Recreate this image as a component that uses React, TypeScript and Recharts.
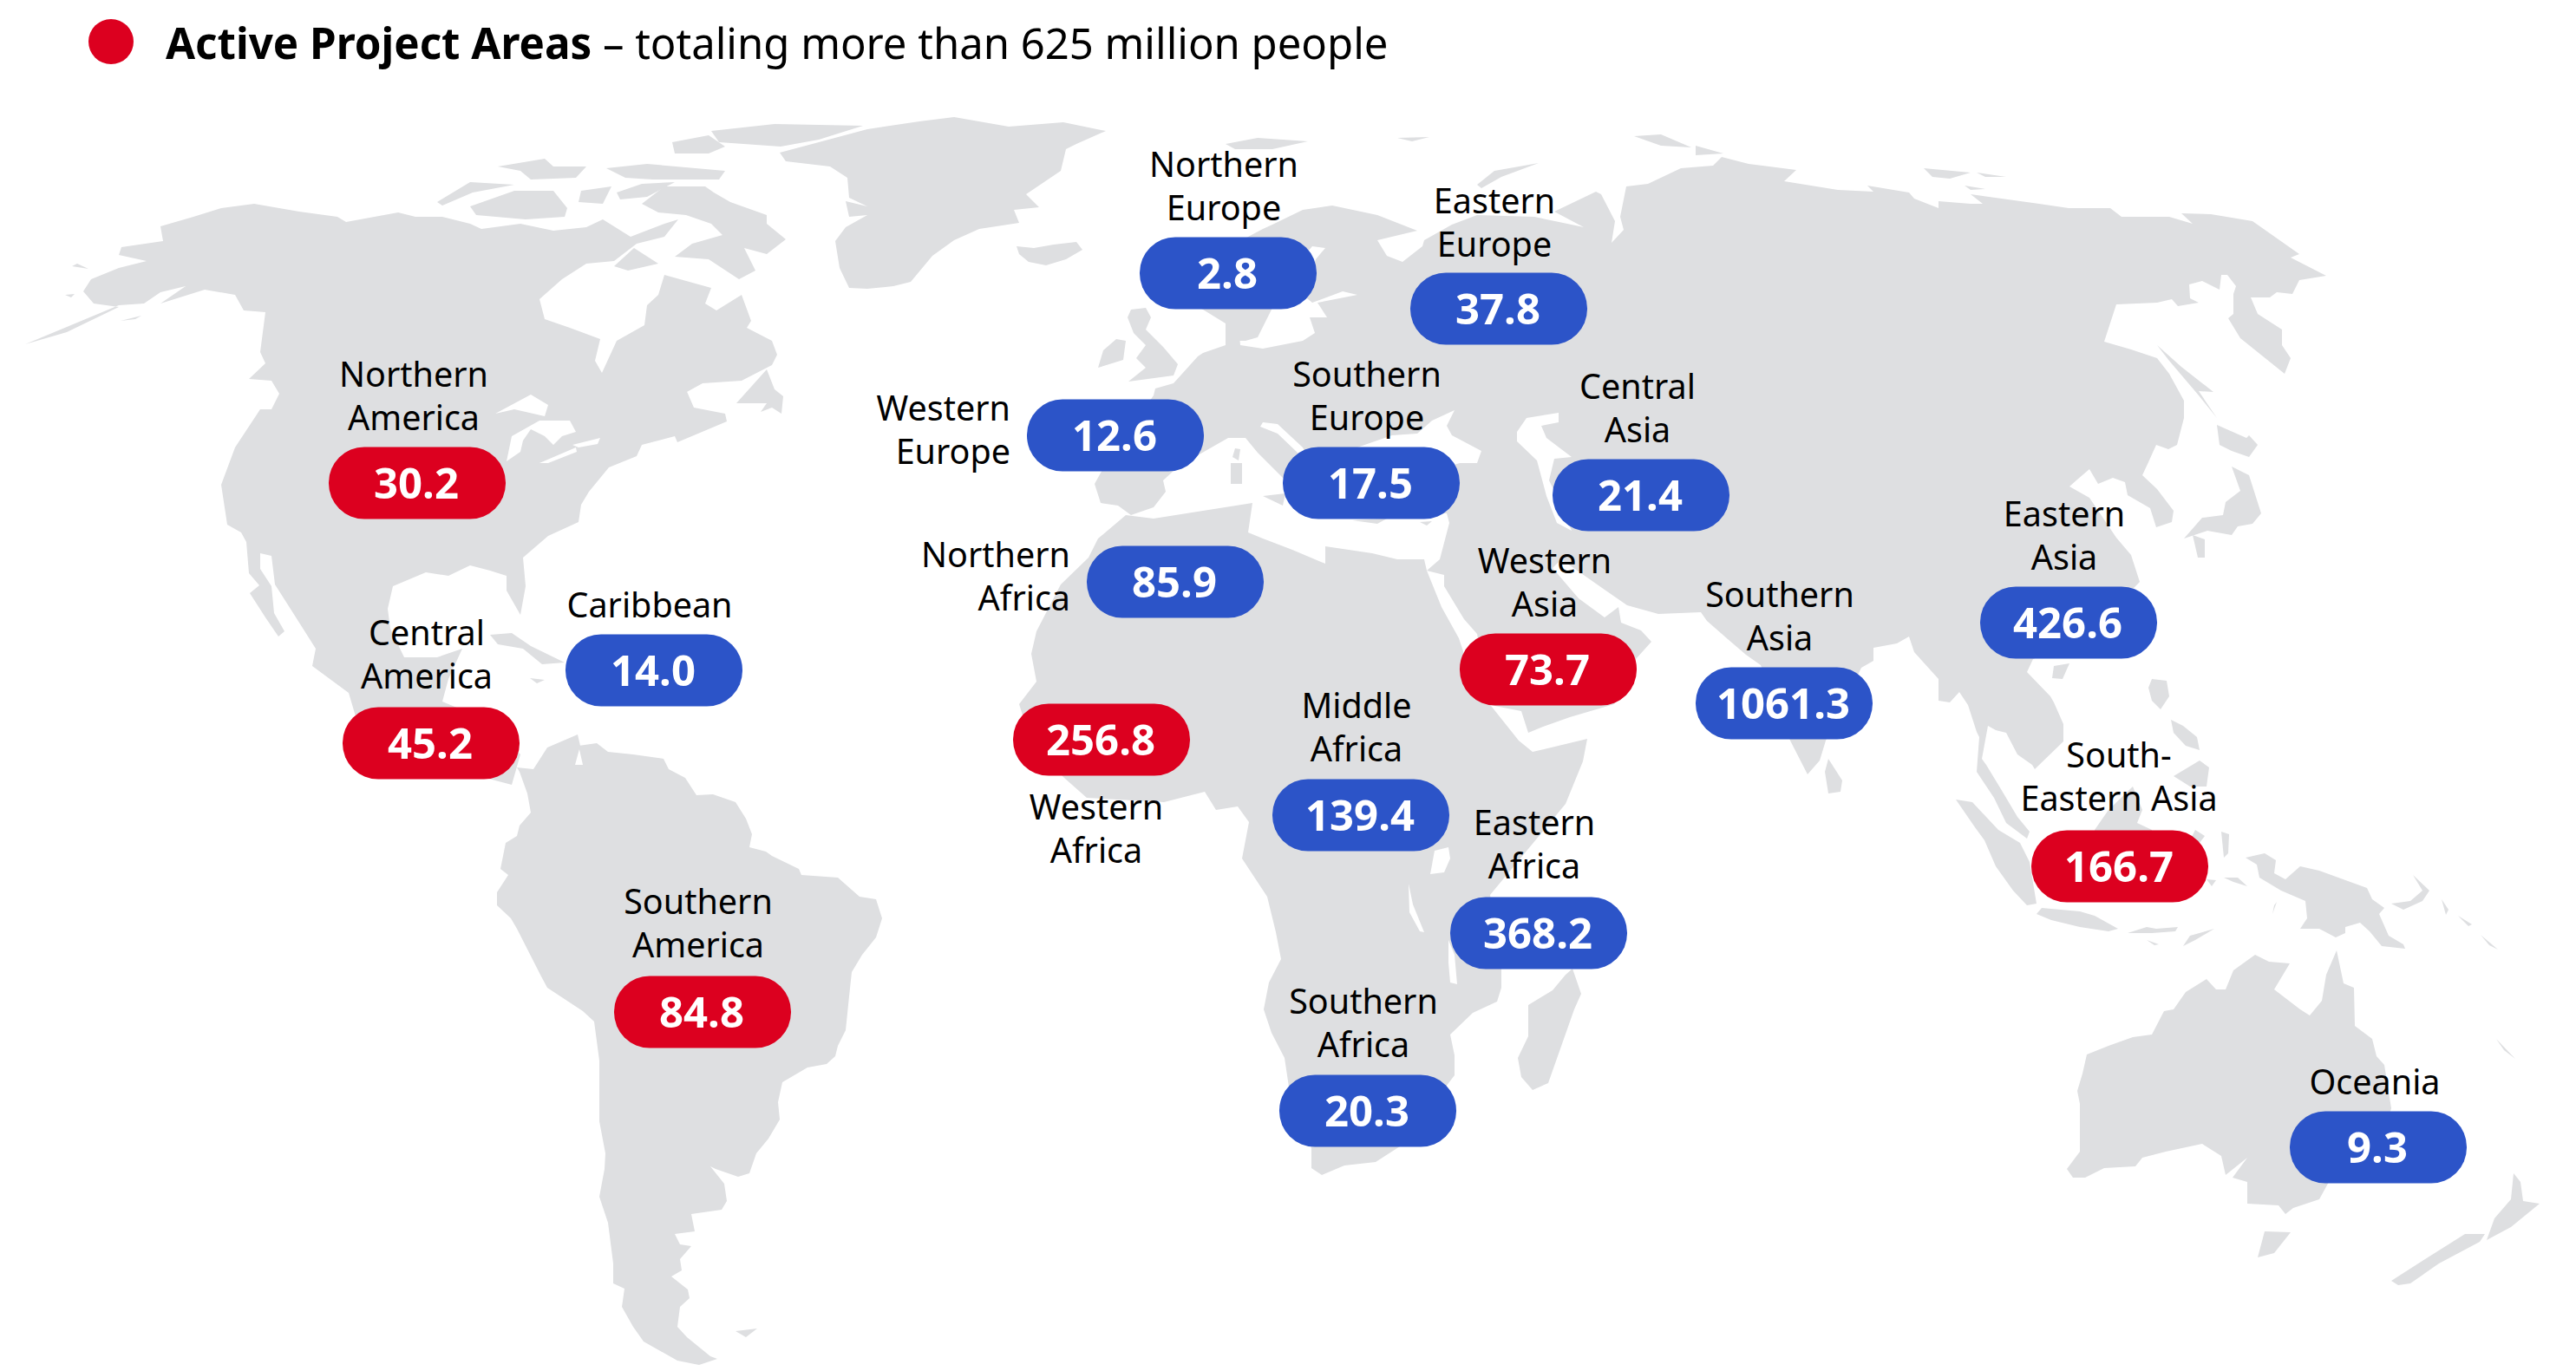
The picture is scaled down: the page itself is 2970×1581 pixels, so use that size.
import React from 'react';
import { ScatterChart, Scatter, XAxis, YAxis } from 'recharts';

type Pt = [number, number];

const WIDTH = 2970;
const HEIGHT = 1581;

const LAND_COLOR = '#dedfe1';
const ACTIVE_COLOR = '#dc001f';
const OTHER_COLOR = '#2c54c8';
const FONT = '"Noto Sans", sans-serif';

// regions, top level values in million people
const REGION_LINES = [
  ['Northern', 'America'], ['Caribbean'], ['Central', 'America'], ['Southern', 'America'],
  ['Western', 'Africa'], ['Northern', 'Europe'], ['Eastern', 'Europe'], ['Western', 'Europe'],
  ['Southern', 'Europe'], ['Central', 'Asia'], ['Northern', 'Africa'], ['Western', 'Asia'],
  ['Middle', 'Africa'], ['Eastern', 'Africa'], ['Southern', 'Africa'], ['Southern', 'Asia'],
  ['Eastern', 'Asia'], ['South-', 'Eastern Asia'], ['Oceania'],
];
const REGION_VALUES = ['30.2', '14.0', '45.2', '84.8', '256.8', '2.8', '37.8', '12.6', '17.5', '21.4', '85.9', '73.7', '139.4', '368.2', '20.3', '1061.3', '426.6', '166.7', '9.3'];
const REGION_ACTIVE = [true, false, true, true, true, false, false, false, false, false, false, true, false, false, false, false, false, true, false];

// map position of each badge and label, in picture pixels
const BADGE_X = [481, 754, 497, 810, 1270, 1416, 1728, 1286, 1581, 1892, 1355, 1785, 1569, 1774, 1577, 2057, 2385, 2444, 2742];
const BADGE_Y = [557, 773, 857, 1167, 853, 315, 356, 502, 557, 571, 671, 772, 940, 1076, 1281, 811, 718, 999, 1323];
const LABEL_X = [477, 749, 492, 805, 1264, 1411, 1723, 1165, 1576, 1888, 1234, 1781, 1564, 1769, 1572, 2052, 2380, 2443, 2738];
const LABEL_Y = [446, 712, 744, 1054, 945, 204, 246, 485, 446, 460, 654, 661, 828, 963, 1169, 700, 607, 885, 1262];
const LABEL_ANCHOR = ['middle', 'middle', 'middle', 'middle', 'middle', 'middle', 'middle', 'end', 'middle', 'middle', 'end', 'middle', 'middle', 'middle', 'middle', 'middle', 'middle', 'middle', 'middle'];

const NORTH_AMERICA: Pt[] = [[29,397],[77,383],[137,354],[108,350],[96,336],[105,322],[137,309],[169,301],[137,294],[140,285],[188,278],[185,261],[223,250],[255,240],[293,235],[345,244],[389,250],[399,256],[459,245],[479,250],[510,250],[542,258],[555,264],[600,258],[638,266],[676,262],[695,253],[727,273],[766,258],[782,253],[766,273],[734,281],[708,301],[676,304],[648,322],[622,345],[628,368],[657,378],[692,391],[686,416],[694,430],[711,393],[743,375],[746,352],[759,340],[766,317],[820,332],[813,350],[826,358],[855,340],[866,370],[861,378],[890,393],[896,409],[890,421],[855,439],[810,442],[750,475],[790,447],[800,470],[836,477],[838,486],[781,510],[778,503],[740,513],[734,526],[702,539],[679,567],[670,582],[667,602],[632,618],[603,643],[606,676],[600,709],[584,681],[584,664],[565,658],[542,652],[517,664],[491,660],[453,676],[447,702],[450,725],[466,758],[504,758],[533,748],[517,783],[510,809],[560,830],[600,870],[590,905],[420,860],[402,799],[360,768],[364,748],[338,707],[317,674],[313,641],[300,638],[300,656],[313,676],[316,707],[328,728],[321,734],[306,712],[288,684],[299,675],[287,661],[284,625],[278,614],[262,605],[255,559],[271,516],[300,472],[313,472],[322,454],[313,439],[287,437],[306,419],[300,406],[306,360],[281,358],[271,340],[236,334],[185,350],[214,330],[185,337],[166,350],[137,352]];
const BAFFIN: Pt[] = [[740,235],[766,215],[813,215],[823,222],[842,233],[884,248],[884,258],[906,276],[884,293],[858,286],[871,312],[852,322],[817,299],[778,296],[798,281],[833,271],[820,258],[791,248],[759,245]];
const VICTORIA: Pt[] = [[542,238],[593,220],[638,220],[654,240],[651,250],[606,253],[549,248]];
const BANKS: Pt[] = [[504,233],[542,210],[593,213],[545,222],[510,237]];
const ELLESMERE: Pt[] = [[820,151],[893,143],[995,145],[944,161],[900,169],[829,164]];
const AXEL: Pt[] = [[775,164],[817,156],[836,169],[817,177],[778,177]];
const DEVON: Pt[] = [[699,194],[746,189],[836,197],[829,207],[753,207],[721,205]];
const MELVILLE: Pt[] = [[574,192],[628,183],[638,192],[676,192],[664,205],[612,207],[600,197]];
const PRINCE_WALES: Pt[] = [[670,220],[705,215],[695,235],[667,233]];
const SOMERSET: Pt[] = [[711,222],[740,212],[778,210],[746,227],[715,230]];
const SOUTHAMPTON: Pt[] = [[708,307],[731,286],[759,304],[724,312]];
const NEWFOUNDLAND: Pt[] = [[849,465],[884,426],[893,449],[903,457],[901,477],[890,470],[877,475],[884,465],[861,465]];
const KODIAK: Pt[] = [[139,370],[163,364],[156,368]];
const ALEUT_A: Pt[] = [[83,307],[89,304],[102,310]];
const ALEUT_B: Pt[] = [[75,340],[86,339],[82,343]];
const CUBA: Pt[] = [[565,732],[590,730],[612,745],[651,764],[625,766],[603,748],[574,743]];
const JAMAICA: Pt[] = [[611,782],[628,784],[619,788]];
const SOUTH_AMERICA: Pt[] = [[596,885],[615,887],[631,862],[666,847],[669,860],[663,882],[672,882],[667,860],[688,857],[701,867],[730,870],[765,875],[771,887],[790,897],[803,917],[822,916],[848,925],[860,944],[867,962],[864,977],[883,982],[890,987],[921,1002],[924,1009],[966,1012],[991,1034],[1010,1037],[1017,1059],[1010,1081],[994,1101],[982,1121],[979,1149],[975,1188],[966,1206],[963,1218],[953,1227],[931,1231],[902,1248],[897,1271],[899,1291],[886,1313],[872,1330],[864,1353],[851,1357],[825,1348],[819,1345],[835,1365],[838,1385],[832,1395],[797,1400],[801,1420],[778,1423],[784,1435],[797,1437],[784,1452],[786,1465],[774,1472],[793,1487],[795,1497],[784,1507],[781,1530],[792,1542],[819,1564],[827,1567],[806,1574],[781,1569],[742,1547],[730,1530],[717,1507],[720,1486],[707,1480],[707,1457],[701,1410],[691,1380],[697,1348],[698,1330],[691,1293],[691,1223],[685,1178],[672,1166],[631,1139],[624,1126],[596,1071],[589,1059],[573,1044],[573,1029],[586,1009],[577,1002],[583,972],[596,964],[599,952],[612,937],[608,915],[599,890]];
const FALKLANDS: Pt[] = [[848,1535],[873,1532],[860,1542]];
const GREENLAND: Pt[] = [[899,176],[944,164],[1000,149],[1060,140],[1100,135],[1163,146],[1226,141],[1275,151],[1241,166],[1229,172],[1223,197],[1183,224],[1198,239],[1169,242],[1175,257],[1129,264],[1100,277],[1075,295],[1050,325],[1030,330],[1000,333],[979,332],[968,309],[963,278],[975,262],[1000,248],[979,250],[975,232],[1000,238],[979,228],[977,205],[957,192],[906,186]];
const ICELAND: Pt[] = [[1172,284],[1192,286],[1215,282],[1241,279],[1248,288],[1229,299],[1206,306],[1186,302],[1175,293]];
const BRITAIN: Pt[] = [[1304,357],[1321,355],[1327,366],[1321,380],[1341,400],[1358,420],[1353,433],[1301,440],[1321,424],[1310,413],[1321,398],[1307,384],[1300,366]];
const IRELAND: Pt[] = [[1287,391],[1298,393],[1295,415],[1266,424],[1272,404]];
const SVALBARD: Pt[] = [[1413,166],[1450,159],[1508,163],[1467,172],[1424,172]];
const FRANZ_JOSEF: Pt[] = [[1611,159],[1648,158],[1628,163]];
const NOVAYA_ZEMLYA: Pt[] = [[1703,213],[1723,197],[1774,188],[1731,204],[1708,217]];
const SEVERNAYA_A: Pt[] = [[1884,157],[1915,155],[1950,170],[1915,168]];
const SEVERNAYA_B: Pt[] = [[1955,168],[1987,177],[1955,179]];
const SIBERIAN_A: Pt[] = [[2218,194],[2272,199],[2248,206],[2228,204]];
const SIBERIAN_B: Pt[] = [[2279,199],[2313,204],[2289,204]];
const SIBERIAN_C: Pt[] = [[2265,214],[2289,218],[2272,219]];
const SARDINIA: Pt[] = [[1419,534],[1432,534],[1432,558],[1419,558]];
const CORSICA: Pt[] = [[1424,517],[1430,518],[1428,531],[1421,527]];
const SICILY: Pt[] = [[1456,572],[1482,569],[1479,583]];
const CRETE: Pt[] = [[1559,600],[1599,598],[1588,604]];
const CYPRUS: Pt[] = [[1637,602],[1651,601],[1645,606]];
const EURASIA: Pt[] = [[1304,594],[1330,585],[1344,567],[1341,554],[1353,543],[1381,525],[1416,505],[1436,505],[1450,522],[1479,551],[1499,576],[1513,558],[1496,522],[1473,500],[1453,492],[1456,487],[1473,489],[1502,516],[1531,576],[1548,594],[1559,558],[1571,594],[1617,592],[1668,592],[1671,603],[1660,645],[1645,658],[1665,663],[1665,676],[1688,714],[1703,731],[1718,813],[1754,820],[1762,845],[1779,838],[1810,827],[1861,812],[1886,760],[1904,740],[1892,727],[1869,718],[1866,700],[1850,712],[1820,690],[1790,655],[1800,645],[1850,680],[1876,698],[1912,708],[1961,706],[1968,716],[1992,737],[2013,755],[2030,767],[2064,854],[2084,893],[2098,877],[2105,854],[2146,770],[2160,762],[2160,747],[2187,742],[2201,734],[2207,752],[2235,783],[2235,808],[2248,810],[2259,798],[2269,813],[2279,844],[2282,850],[2279,890],[2299,920],[2313,949],[2337,967],[2340,959],[2326,942],[2307,910],[2290,882],[2285,875],[2292,837],[2301,842],[2313,845],[2326,870],[2343,882],[2346,887],[2379,855],[2379,835],[2368,810],[2364,803],[2337,775],[2344,760],[2400,740],[2467,671],[2457,640],[2440,620],[2409,574],[2386,561],[2395,553],[2409,541],[2419,558],[2436,551],[2450,556],[2453,571],[2479,586],[2486,608],[2504,602],[2506,589],[2487,564],[2470,548],[2477,533],[2486,513],[2500,518],[2510,513],[2518,482],[2518,462],[2501,431],[2487,413],[2457,403],[2426,394],[2440,351],[2487,349],[2504,345],[2511,353],[2535,349],[2525,344],[2524,328],[2539,324],[2559,334],[2561,317],[2568,317],[2578,330],[2575,339],[2575,362],[2569,367],[2583,390],[2634,431],[2641,413],[2631,398],[2631,380],[2603,362],[2595,343],[2617,343],[2625,337],[2643,339],[2651,323],[2682,318],[2641,297],[2651,293],[2597,255],[2549,247],[2515,246],[2528,258],[2501,250],[2446,250],[2433,240],[2385,240],[2351,235],[2272,224],[2286,235],[2272,235],[2235,232],[2235,240],[2207,229],[2201,222],[2153,214],[2160,221],[2119,219],[2057,209],[2071,196],[2016,189],[1985,181],[1975,191],[1938,194],[1900,212],[1875,215],[1868,250],[1872,265],[1858,280],[1862,255],[1846,224],[1840,221],[1792,244],[1826,262],[1769,250],[1703,248],[1674,259],[1642,277],[1640,284],[1617,302],[1599,295],[1588,277],[1634,266],[1588,248],[1536,237],[1502,242],[1467,259],[1456,264],[1330,331],[1387,357],[1413,373],[1424,393],[1436,393],[1450,389],[1467,355],[1473,331],[1513,284],[1528,286],[1517,299],[1502,340],[1513,349],[1548,336],[1565,340],[1519,349],[1530,366],[1510,366],[1516,384],[1502,393],[1456,402],[1430,398],[1427,366],[1413,371],[1413,398],[1387,407],[1381,411],[1353,442],[1332,448],[1330,456],[1272,540],[1262,558],[1269,580],[1289,583]];
const AFRICA: Pt[] = [[1298,594],[1266,621],[1255,643],[1223,674],[1195,728],[1189,754],[1195,786],[1175,812],[1190,860],[1227,897],[1253,920],[1342,925],[1389,913],[1402,934],[1427,930],[1440,948],[1432,990],[1461,1034],[1471,1075],[1477,1106],[1463,1133],[1457,1164],[1466,1191],[1481,1220],[1490,1280],[1512,1324],[1512,1347],[1524,1355],[1550,1344],[1586,1340],[1614,1322],[1677,1240],[1677,1217],[1672,1193],[1698,1168],[1726,1155],[1731,1139],[1731,1117],[1718,1032],[1805,927],[1825,878],[1830,852],[1767,867],[1751,854],[1700,790],[1682,736],[1662,700],[1645,658],[1642,645],[1611,645],[1582,638],[1528,630],[1528,650],[1490,634],[1456,621],[1439,614],[1444,580],[1387,589],[1330,598]];
const MADAGASCAR: Pt[] = [[1813,1117],[1823,1146],[1815,1164],[1785,1249],[1767,1257],[1754,1242],[1750,1220],[1762,1195],[1762,1159],[1790,1142],[1805,1124]];
const SRI_LANKA: Pt[] = [[2108,875],[2124,900],[2122,913],[2108,915],[2104,890]];
const HONSHU: Pt[] = [[2518,621],[2539,597],[2563,594],[2566,579],[2583,566],[2573,538],[2593,548],[2607,592],[2597,604],[2580,607],[2573,617],[2545,612]];
const KYUSHU: Pt[] = [[2528,617],[2542,622],[2542,643],[2534,643]];
const HOKKAIDO: Pt[] = [[2556,490],[2590,505],[2593,502],[2603,513],[2593,527],[2573,520],[2559,513]];
const SAKHALIN: Pt[] = [[2487,398],[2515,423],[2552,452],[2535,451],[2556,482],[2535,456],[2501,416]];
const HAINAN: Pt[] = [[2368,768],[2386,765],[2378,783],[2366,782]];
const LUZON: Pt[] = [[2481,783],[2498,785],[2501,803],[2491,818],[2481,808],[2477,793]];
const VISAYAS: Pt[] = [[2503,830],[2517,837],[2533,850],[2536,865],[2520,860],[2506,845]];
const MINDANAO: Pt[] = [[2506,895],[2536,877],[2547,885],[2544,907],[2525,907],[2514,900]];
const SUMATRA: Pt[] = [[2255,922],[2274,925],[2304,957],[2329,972],[2340,994],[2348,1042],[2337,1044],[2321,1027],[2301,999],[2288,969],[2277,954]];
const JAVA: Pt[] = [[2348,1054],[2354,1047],[2398,1051],[2415,1056],[2442,1071],[2431,1074],[2398,1069],[2365,1061]];
const SUNDA: Pt[] = [[2453,1076],[2475,1069],[2486,1071],[2511,1069],[2508,1074],[2481,1076]];
const SUMBA: Pt[] = [[2475,1084],[2489,1089],[2484,1090]];
const TIMOR: Pt[] = [[2517,1091],[2525,1079],[2553,1071],[2531,1084]];
const BORNEO: Pt[] = [[2415,957],[2431,934],[2459,907],[2470,934],[2464,949],[2481,957],[2486,999],[2415,999]];
const SULAWESI: Pt[] = [[2531,957],[2542,964],[2536,972],[2525,969]];
const HALMAHERA: Pt[] = [[2561,959],[2570,962],[2569,984],[2564,989]];
const BURU: Pt[] = [[2544,1014],[2555,1015],[2550,1022]];
const SERAM: Pt[] = [[2564,1012],[2580,1012],[2591,1022],[2575,1017]];
const NEW_GUINEA: Pt[] = [[2589,989],[2611,984],[2624,992],[2622,1007],[2635,1014],[2652,999],[2674,1004],[2729,1024],[2735,1037],[2749,1047],[2743,1054],[2754,1079],[2771,1089],[2773,1094],[2746,1091],[2732,1074],[2721,1064],[2704,1069],[2704,1076],[2693,1081],[2674,1071],[2652,1071],[2660,1059],[2658,1039],[2630,1027],[2605,1012],[2602,997]];
const ARU: Pt[] = [[2622,1044],[2625,1040],[2620,1054]];
const NEW_BRITAIN: Pt[] = [[2757,1042],[2779,1039],[2793,1027],[2782,1009],[2801,1027],[2793,1039],[2771,1049]];
const BOUGAINVILLE: Pt[] = [[2815,1037],[2823,1049],[2820,1055]];
const SOLOMON_A: Pt[] = [[2834,1056],[2850,1066],[2846,1068]];
const SOLOMON_B: Pt[] = [[2860,1078],[2880,1095],[2870,1090]];
const NEW_CALEDONIA: Pt[] = [[2878,1198],[2900,1221],[2887,1211]];
const AUSTRALIA: Pt[] = [[2383,1348],[2398,1328],[2398,1273],[2395,1258],[2401,1238],[2406,1216],[2431,1206],[2459,1196],[2481,1193],[2495,1166],[2506,1164],[2520,1144],[2544,1129],[2555,1141],[2566,1141],[2575,1119],[2600,1101],[2616,1109],[2640,1111],[2622,1141],[2652,1164],[2663,1171],[2677,1154],[2682,1124],[2694,1096],[2702,1134],[2714,1139],[2715,1183],[2735,1198],[2740,1218],[2749,1228],[2757,1278],[2735,1348],[2685,1363],[2674,1383],[2644,1393],[2635,1400],[2627,1390],[2591,1388],[2591,1363],[2574,1358],[2591,1335],[2566,1355],[2561,1333],[2539,1319],[2497,1328],[2470,1335],[2462,1345],[2426,1347],[2404,1358],[2390,1358]];
const TASMANIA: Pt[] = [[2611,1420],[2641,1421],[2622,1445],[2603,1450]];
const NZ_SOUTH: Pt[] = [[2757,1477],[2796,1452],[2842,1423],[2865,1423],[2859,1432],[2812,1457],[2779,1480],[2765,1482]];
const NZ_NORTH: Pt[] = [[2898,1353],[2906,1363],[2909,1385],[2928,1388],[2895,1415],[2867,1430],[2876,1405],[2895,1383]];

// inland water, painted over the land
const LAKE_SUPERIOR: Pt[] = [[571,477],[612,455],[632,467],[628,480],[593,472]];
const LAKE_MICHIGAN: Pt[] = [[584,532],[590,503],[622,485],[657,485],[664,498],[648,503],[638,513],[628,503],[612,495],[603,508],[600,521]];
const LAKE_ERIE: Pt[] = [[622,534],[664,516],[665,521],[632,534]];
const LAKE_ONTARIO: Pt[] = [[660,513],[692,505],[689,512],[667,516]];
const BLACK_SEA: Pt[] = [[1559,518],[1605,502],[1634,500],[1651,485],[1677,473],[1668,491],[1674,502],[1708,520],[1703,534],[1683,534],[1617,554],[1559,554]];
const CASPIAN: Pt[] = [[1749,498],[1760,482],[1797,476],[1797,487],[1777,491],[1783,505],[1812,527],[1792,529],[1786,554],[1797,576],[1812,612],[1795,603],[1783,572],[1772,531],[1749,509]];
const LAKE_VICTORIA: Pt[] = [[1649,1008],[1654,981],[1670,977],[1672,990],[1665,1006]];
const LAKE_TANGANYIKA: Pt[] = [[1624,1019],[1629,1043],[1642,1075],[1637,1074],[1625,1052]];
const LAKE_MALAWI: Pt[] = [[1670,1084],[1677,1101],[1680,1135],[1672,1133],[1670,1110]];

const LAND = [NORTH_AMERICA, BAFFIN, VICTORIA, BANKS, ELLESMERE, AXEL, DEVON, MELVILLE, PRINCE_WALES, SOMERSET, SOUTHAMPTON, NEWFOUNDLAND, KODIAK, ALEUT_A, ALEUT_B, CUBA, JAMAICA, SOUTH_AMERICA, FALKLANDS, GREENLAND, ICELAND, BRITAIN, IRELAND, SVALBARD, FRANZ_JOSEF, NOVAYA_ZEMLYA, SEVERNAYA_A, SEVERNAYA_B, SIBERIAN_A, SIBERIAN_B, SIBERIAN_C, EURASIA, AFRICA, SARDINIA, CORSICA, SICILY, CRETE, CYPRUS, MADAGASCAR, SRI_LANKA, HONSHU, KYUSHU, HOKKAIDO, SAKHALIN, HAINAN, LUZON, VISAYAS, MINDANAO, SUMATRA, JAVA, SUNDA, SUMBA, TIMOR, BORNEO, SULAWESI, HALMAHERA, BURU, SERAM, NEW_GUINEA, ARU, NEW_BRITAIN, BOUGAINVILLE, SOLOMON_A, SOLOMON_B, NEW_CALEDONIA, AUSTRALIA, TASMANIA, NZ_SOUTH, NZ_NORTH];
const WATER = [LAKE_SUPERIOR, LAKE_MICHIGAN, LAKE_ERIE, LAKE_ONTARIO, BLACK_SEA, CASPIAN, LAKE_VICTORIA, LAKE_TANGANYIKA, LAKE_MALAWI];

const regionData = REGION_VALUES.map((value, i) => ({
  x: BADGE_X[i],
  y: BADGE_Y[i],
  value,
  active: REGION_ACTIVE[i],
}));
const labelData = REGION_LINES.map((lines, i) => ({
  x: LABEL_X[i],
  y: LABEL_Y[i],
  lines,
  anchor: LABEL_ANCHOR[i],
}));

const toPoints = (shape: Pt[]) => shape.map(([x, y]) => ({ x, y }));

// the scatter hands its scaled points to the line, we close and fill them
const fillOutline = (color: string) => (props: any) => (
  <path
    key={props.key}
    d={'M' + props.points.map((p: any) => `${p.x},${p.y}`).join('L') + 'Z'}
    fill={color}
    stroke="none"
  />
);

const NoDot = () => null;

const Badge = ({ cx, cy, payload }: any) => (
  <g>
    <rect
      x={cx - 102}
      y={cy - 41.5}
      width={204}
      height={83}
      rx={41}
      fill={payload.active ? ACTIVE_COLOR : OTHER_COLOR}
    />
    <text
      x={cx - 1}
      y={cy + 18}
      textAnchor="middle"
      fontFamily={FONT}
      fontWeight={700}
      fontSize={49}
      fill="#ffffff"
    >
      {payload.value}
    </text>
  </g>
);

const RegionLabel = ({ cx, cy, payload }: any) => (
  <text textAnchor={payload.anchor} fontFamily={FONT} fontSize={39.5} fill="#000000">
    {payload.lines.map((line: string, i: number) => (
      <tspan key={line} x={cx} y={cy + i * 49.5}>
        {line}
      </tspan>
    ))}
  </text>
);

const LegendEntry = ({ cx, cy }: any) => (
  <g>
    <circle cx={cx} cy={cy} r={26} fill={ACTIVE_COLOR} />
    <text x={191} y={cy + 20} fontFamily={FONT} fontSize={49} fill="#000000">
      <tspan fontWeight={700} fontSize={49.3}>Active Project Areas</tspan>
      <tspan> – totaling more than 625 million people</tspan>
    </text>
  </g>
);

export default function App() {
  return (
    <div style={{ position: 'absolute', left: 0, top: 0, width: WIDTH, height: HEIGHT, background: '#ffffff' }}>
      <ScatterChart width={WIDTH} height={HEIGHT} margin={{ top: 0, right: 0, bottom: 0, left: 0 }}>
        <XAxis type="number" dataKey="x" domain={[0, WIDTH]} hide />
        <YAxis type="number" dataKey="y" domain={[0, HEIGHT]} reversed hide />
        {LAND.map((shape, i) => (
          <Scatter
            key={`land-${i}`}
            data={toPoints(shape)}
            line={fillOutline(LAND_COLOR)}
            shape={NoDot}
            isAnimationActive={false}
          />
        ))}
        {WATER.map((shape, i) => (
          <Scatter
            key={`water-${i}`}
            data={toPoints(shape)}
            line={fillOutline('#ffffff')}
            shape={NoDot}
            isAnimationActive={false}
          />
        ))}
        <Scatter data={labelData} shape={RegionLabel} isAnimationActive={false} />
        <Scatter data={regionData} shape={Badge} isAnimationActive={false} />
        <Scatter data={[{ x: 128, y: 48 }]} shape={LegendEntry} isAnimationActive={false} />
      </ScatterChart>
    </div>
  );
}
